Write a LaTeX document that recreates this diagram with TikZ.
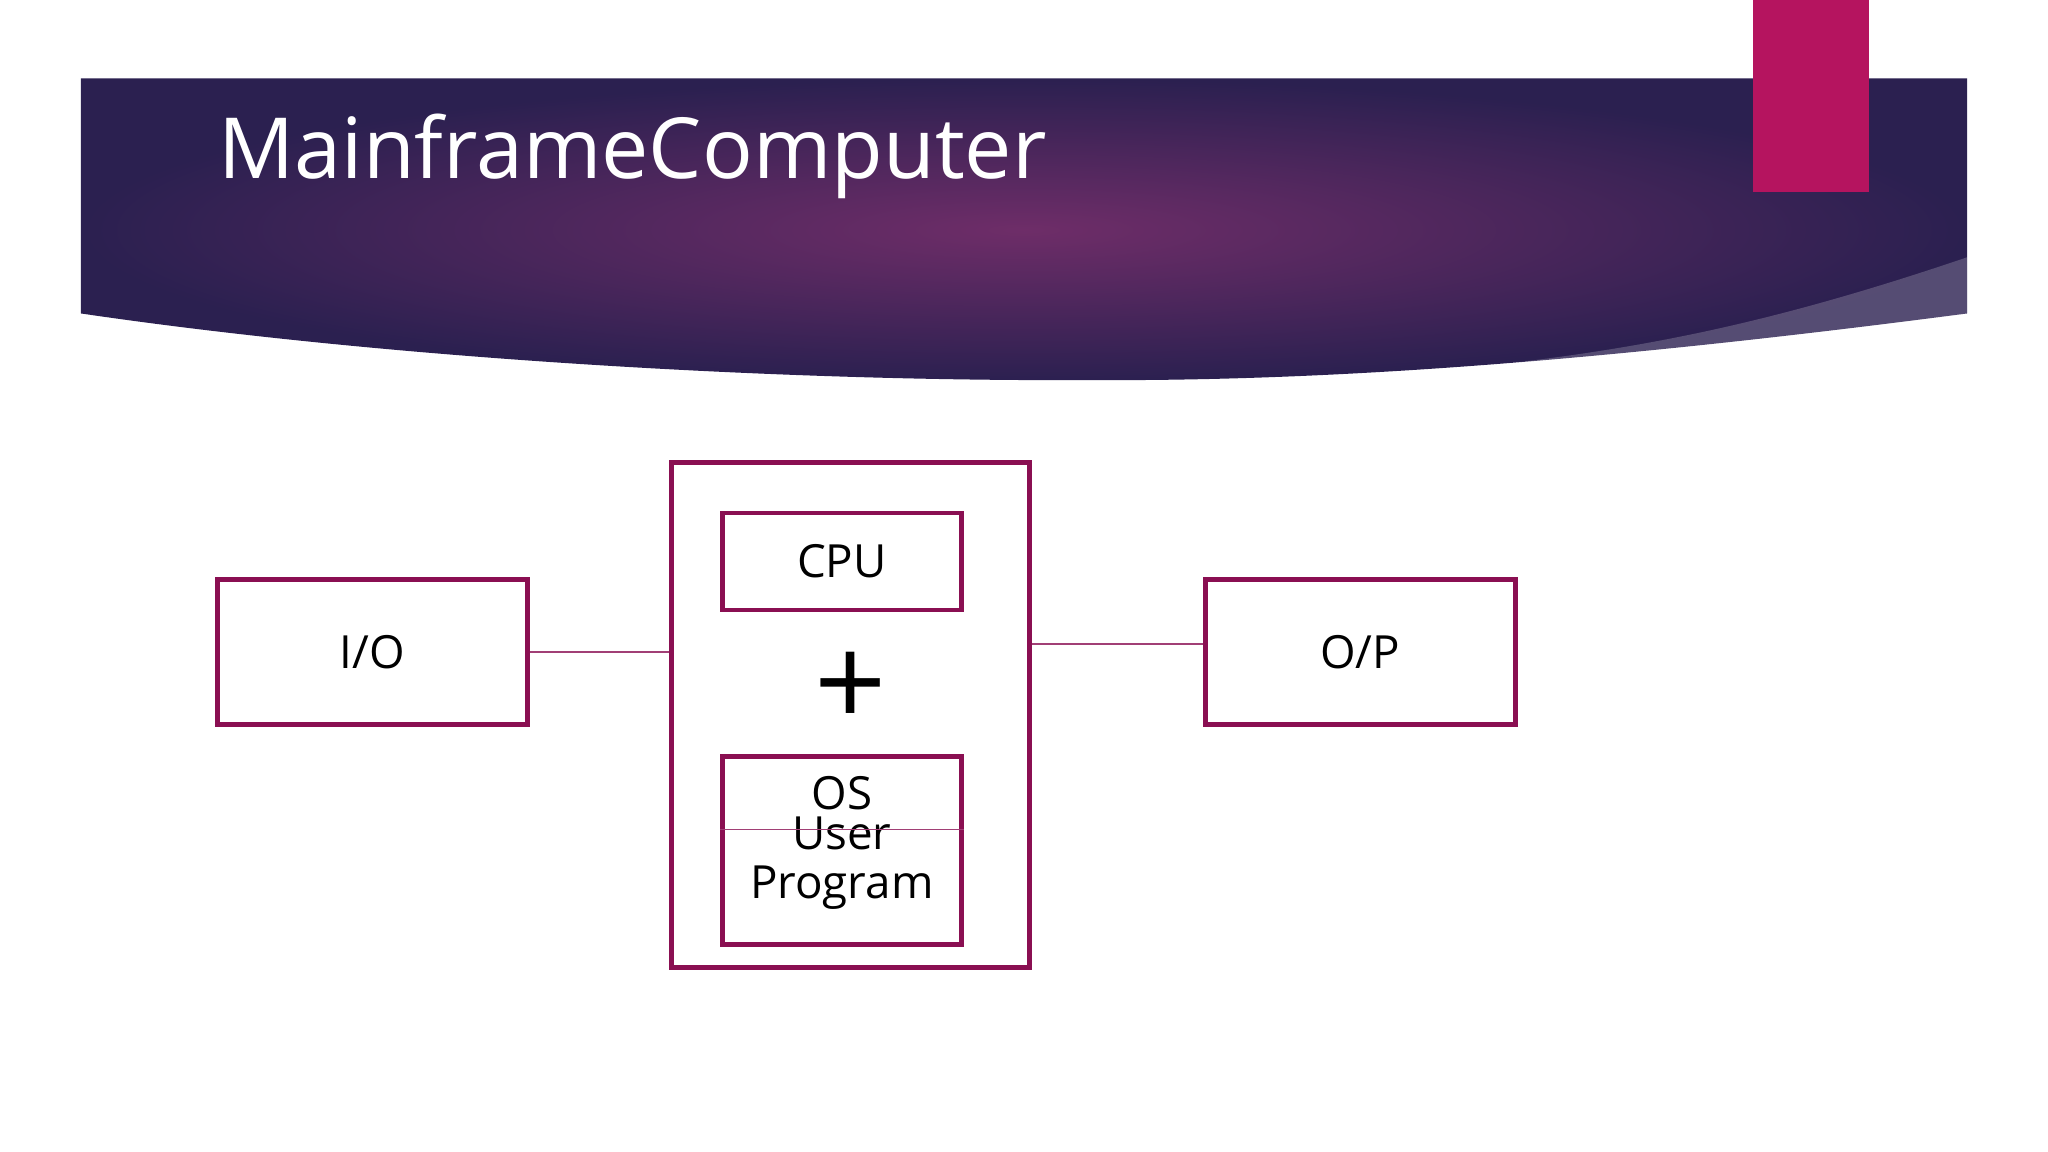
\documentclass[tikz,border=0pt]{standalone}
\usepackage{fontspec}
\setmainfont{Open Sans}
\usetikzlibrary{positioning}
\definecolor{boxred}{HTML}{8A0F52}
\definecolor{tabpink}{HTML}{B5145F}
\definecolor{bannerin}{HTML}{6E2D68}
\definecolor{bannerout}{HTML}{2B2050}
\tikzset{
  block/.style={draw=boxred, line width=1.3pt, minimum width=3.1cm, minimum height=1.45cm, font=\fontsize{13}{15}\selectfont},
  link/.style={draw=boxred!80, line width=0.5pt}
}
\begin{document}
\begin{tikzpicture}[x=0.013061cm, y=-0.013061cm]
		% page area
		\useasboundingbox (0,0) rectangle (1568,882);
		\fill[white] (0,0) rectangle (1568,882);
		
		% Draw the title banner
		\shade[inner color=bannerin, outer color=bannerout] (62,60) -- (1506,60) -- (1506,240)
		  .. controls (1200,280) and (1000,292) .. (830,291) .. controls (600,292) and (300,275) .. (62,240) -- cycle;
		\fill[white, opacity=0.2] (1506,197) .. controls (1350,250) and (1250,268) .. (1130,281) .. controls (1300,268) and (1420,255) .. (1506,240) -- cycle;
		\fill[tabpink] (1342,0) rectangle (1431,147);
		\node[anchor=west, text=white, font=\fontsize{24}{28}\selectfont] (title) at (158,120) {MainframeComputer};
		
		% Draw the boxes
		\node[block] (io) at (285,499) {I/O};
		\node[block] (op) at (1041.5,499) {O/P};
		\node[draw=boxred, line width=1.3pt, minimum width=3.58cm, minimum height=5.05cm] (main) at (651,547.5) {};
		\node[block, minimum width=2.39cm, minimum height=0.97cm] (cpu) at (644.5,430) {CPU};
		\node[font=\fontsize{36}{36}\selectfont] (plus) at (651,528) {+};
		\node[draw=boxred, line width=1.3pt, minimum width=2.39cm, minimum height=1.88cm] (os) at (644.5,651) {};
		\node[font=\fontsize{13}{15}\selectfont] (ostext) at (644.5,607) {OS};
		\node[font=\fontsize{13}{15}\selectfont, align=center] (usertext) at (644.5,661) {User\\[-1pt]Program};
		\draw[link] (os.west |- 0,635) -- (os.east |- 0,635);
		
		% Connect the boxes
		\draw[link] (io.east) -- (io.east -| main.west);
		\draw[link] ([yshift=0.08cm]op.west) -- ([yshift=0.08cm]op.west -| main.east);
	\end{tikzpicture}
\end{document}
